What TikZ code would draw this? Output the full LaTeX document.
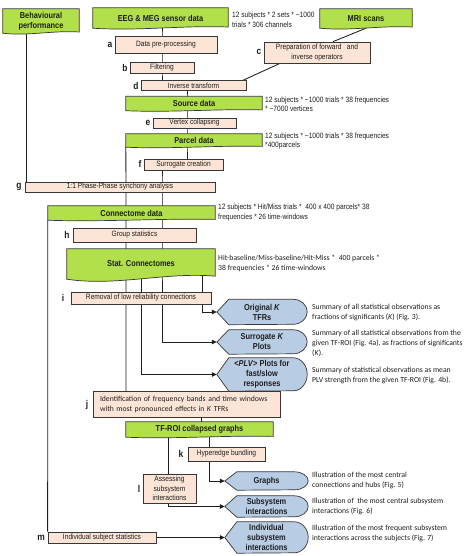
\documentclass[tikz,border=0pt]{standalone}
\usepackage{fontspec}
\setmainfont{Liberation Sans}
\newfontfamily\narrowfam[FakeStretch=0.86]{Liberation Sans}
\newfontfamily\carlfam{Carlito}
\usetikzlibrary{calc,arrows.meta}
\definecolor{greencol}{RGB}{178,224,74}
\definecolor{pinkcol}{RGB}{252,229,214}
\definecolor{bluecol}{RGB}{184,204,228}
\definecolor{edgecol}{RGB}{55,55,55}
\definecolor{linecol}{RGB}{30,30,30}
\definecolor{textcol}{RGB}{30,30,30}
\newcommand\boxfont{\narrowfam\fontsize{7.7}{9.5}\selectfont}
\newcommand\headfont{\narrowfam\bfseries\fontsize{8.6}{10}\selectfont}
\newcommand\labfont{\narrowfam\bfseries\fontsize{9.8}{10}\selectfont}
\newcommand\notefont{\carlfam\fontsize{7.7}{10}\selectfont}
\pgfdeclarelayer{lines}
\pgfdeclarelayer{shapes}
\pgfsetlayers{lines,shapes,main}
\newcommand\docshape[2]{%
  \path[greenshape] (#1.north west) -- (#1.north east) -- ($(#1.south east)+(0,-#2)$)
   .. controls ($(#1.south west)!0.67!(#1.south east)+(0,-2.5*#2)$) and ($(#1.south west)!0.33!(#1.south east)+(0,2.5*#2)$) .. (#1.south west) -- cycle;}
\newcommand\dispshape[2]{%
  \path[blueshape] (#1.west) -- ([xshift=12pt]#1.north west) -- ([xshift=-14pt]#1.north east)
   arc[start angle=90,end angle=-90,x radius=14pt,y radius=#2pt] -- ([xshift=12pt]#1.south west) -- cycle;}
\tikzset{
  sz/.style 2 args={minimum width=#1pt, minimum height=#2pt},
  pinkbox/.style={draw=edgecol, fill=pinkcol, line width=0.7pt, inner sep=0pt, font=\boxfont, align=center, text=textcol},
  greenbox/.style={inner sep=0pt, font=\headfont, align=center, text=textcol},
  greenshape/.style={draw=edgecol, fill=greencol, line width=0.7pt},
  bluebox/.style={inner sep=0pt, font=\headfont, align=center, text=textcol},
  blueshape/.style={draw=edgecol, fill=bluecol, line width=0.7pt},
  steplabel/.style={font=\labfont, inner sep=0pt, text=textcol},
  note/.style={font=\boxfont, align=left, anchor=west, inner sep=0pt, text=textcol},
  cnote/.style={font=\notefont, align=left, anchor=west, inner sep=0pt, text=textcol},
  conn/.style={draw=linecol, line width=0.85pt},
  arr/.style={conn, -{Triangle[length=5pt,width=4.5pt]}},
}
\begin{document}
\begin{tikzpicture}[x=1pt,y=-1pt]
\useasboundingbox (0,0) rectangle (474,556);
% green data boxes
\node[greenbox, sz={76}{24}] (beh) at (41,21) {Behavioural\\performance};
\node[greenbox, sz={135}{20}] (eeg) at (160.5,18) {EEG \& MEG sensor data};
\node[greenbox, sz={92}{19}] (mri) at (366,18.5) {MRI scans};
\node[greenbox, sz={136}{14}] (src) at (194,103.5) {Source data};
\node[greenbox, sz={136}{13}] (par) at (194,140.5) {Parcel data};
\node[greenbox, sz={167}{14}] (con) at (131.5,213) {Connectome data};
\node[greenbox, sz={148}{30}] (stat) at (141,264) {Stat. Connectomes};
\node[greenbox, sz={147}{15}] (tfroi) at (199.5,429.5) {TF-ROI collapsed graphs};
% pink process boxes
\node[pinkbox, sz={102}{17}] (pre) at (166,44.5) {Data pre-processing};
\node[pinkbox, sz={64}{11}] (filt) at (162,67.5) {Filtering};
\node[pinkbox, sz={105}{10}] (inv) at (193.5,85.5) {Inverse transform};
\node[pinkbox, sz={106}{21}] (prep) at (317,52.5) {Preparation of forward\ \ \ and\\inverse operators};
\node[pinkbox, sz={83}{10}] (vert) at (194.5,123) {Vertex collapsing};
\node[pinkbox, sz={79}{11}] (surr) at (183.5,164.5) {Surrogate creation};
\node[pinkbox, sz={190}{10}] (pps) at (120,187) {1:1 Phase-Phase synchony analysis};
\node[pinkbox, sz={123}{14}] (grp) at (134.5,235) {Group statistics};
\node[pinkbox, sz={140}{12}] (rem) at (141,298) {Removal of low reliability connections};
\node[pinkbox, font=\notefont, align=left, text width=173pt, inner xsep=7pt, minimum height=26pt] (ident) at (186.5,404) {Identification of frequency bands and time windows\\with most pronounced effects in \textit{K} TFRs};
\node[pinkbox, sz={77}{14}] (hyp) at (226.5,454) {Hyperedge bundling};
\node[pinkbox, sz={53}{29}] (assess) at (169.5,488.5) {Assessing\\subsystem\\interactions};
\node[pinkbox, sz={108}{11}] (indstat) at (102,537.5) {Individual subject statistics};
% blue output shapes
\node[bluebox, sz={90}{25}] (ok) at (262,312) {Original \textit{K}\\TFRs};
\node[bluebox, sz={90}{24}] (sk) at (262,342) {Surrogate \textit{K}\\Plots};
\node[bluebox, sz={90}{33}] (plv) at (262,374.5) {<\textit{PLV}> Plots for\\fast/slow\\responses};
\node[bluebox, sz={83}{18}] (gr) at (266.5,481) {Graphs};
\node[bluebox, sz={83}{21}] (ss) at (266.5,506.5) {Subsystem\\interactions};
\node[bluebox, sz={83}{31}] (is) at (266.5,537.5) {Individual\\subsystem\\interactions};
% step labels
\node[steplabel] (la) at (110,45) {a};
\node[steplabel] (lb) at (125,68) {b};
\node[steplabel] (lc) at (259,52) {c};
\node[steplabel] (ld) at (136,86) {d};
\node[steplabel] (le) at (148,123) {e};
\node[steplabel] (lf) at (140,164) {f};
\node[steplabel] (lg) at (19,187) {g};
\node[steplabel] (lh) at (67,235) {h};
\node[steplabel] (li) at (63,298) {i};
\node[steplabel] (lj) at (87,405) {j};
\node[steplabel] (lk) at (181,454) {k};
\node[steplabel] (ll) at (139,489) {l};
\node[steplabel] (lm) at (41,537.5) {m};
% annotations
\node[note] (n1) at (232,19.5) {12 subjects * 2 sets * \textasciitilde1000\\trials * 306 channels};
\node[note] (n2) at (265,104) {12 subjects * \textasciitilde1000 trials * 38 frequencies\\* \textasciitilde7000 vertices};
\node[note] (n3) at (265,141) {12 subjects * \textasciitilde1000 trials * 38 frequencies\\*400parcels};
\node[note] (n4) at (218,212.5) {12 subjects * Hit/Miss trials *\ \ 400 x 400 parcels* 38\\frequencies * 26 time-windows};
\node[cnote] (n5) at (218,263) {Hit-baseline/Miss-baseline/Hit-Miss *\ \ 400 parcels *\\38 frequencies * 26 time-windows};
\node[cnote] (n6) at (312,312) {Summary of all statistical observations as\\fractions of significants (\textit{K}) (Fig. 3).};
\node[cnote] (n7) at (312,343) {Summary of all statistical observations from the\\given TF-ROI (Fig. 4a), as fractions of significants\\(\textit{K}).};
\node[cnote] (n8) at (312,375.5) {Summary of statistical observations as mean\\PLV strength from the given TF-ROI (Fig. 4b).};
\node[cnote] (n9) at (312,480) {Illustration of the most central\\connections and hubs (Fig. 5)};
\node[cnote] (n10) at (312,506.5) {Illustration of\ \ the most central subsystem\\interactions (Fig. 6)};
\node[cnote] (n11) at (312,533.5) {Illustration of the most frequent subsystem\\interactions across the subjects (Fig. 7)};
% column coordinates
\coordinate (xA) at (187,0);
\coordinate (xB) at (162,0);
\coordinate (xC) at (126,0);
\coordinate (xD) at (26,0);
\coordinate (xE) at (202,0);
\coordinate (xF) at (141,0);
\coordinate (xG) at (209,0);
\coordinate (xH) at (168,0);
\coordinate (xJ) at (201,0);
\begin{pgfonlayer}{shapes}
\docshape{beh}{1.2}
\docshape{eeg}{1.2}
\docshape{mri}{1.2}
\docshape{src}{0.8}
\docshape{par}{0.8}
\docshape{con}{0.8}
\docshape{stat}{3}
\docshape{tfroi}{0.8}
\dispshape{ok}{12.5}
\dispshape{sk}{12}
\dispshape{plv}{16.5}
\dispshape{gr}{9}
\dispshape{ss}{10.5}
\dispshape{is}{15.5}
\end{pgfonlayer}
\begin{pgfonlayer}{lines}
\fill[white] (0,0) rectangle (474,556);
\draw[conn] (eeg.center -| xB) -- (pre.center -| xB) -- (filt.center) -- (inv.center -| xB);
\draw[conn] (inv.center -| xA) -- (src.center -| xA) -- (vert.center -| xA) -- (par.center -| xA) -- (surr.center -| xA);
\draw[conn] (mri.south) -- ([xshift=16pt]prep.north);
\draw[conn] ([xshift=-37pt]prep.south) -- ([xshift=-3pt]inv.north east);
\draw[conn] (beh.center -| xD) -- (pps.center -| xD);
\draw[conn] (surr.center -| xB) -- (pps.center -| xB) -- (con.center -| xB) -- (grp.center -| xB) -- (stat.center -| xB) -- (rem.center -| xB);
\draw[arr] (rem.center -| xB) |- (sk.west);
\draw[conn] (par.south west) -- (pps.center -| xC) -- (con.center -| xC) -- (grp.center -| xC) -- (stat.center -| xC) -- (rem.center -| xC) -- (ident.center -| xC);
\draw[conn] (stat.center -| xF) -- (rem.center -| xF);
\draw[arr] (rem.center -| xF) |- (plv.west);
\draw[conn] (stat.center -| xE) -- (rem.center -| xE);
\draw[arr] (rem.center -| xE) |- (ok.west);
\draw[conn] (con.south west) -- (indstat.north west);
\draw[conn] (ident.center -| xJ) -- (tfroi.center -| xJ);
\draw[conn] (tfroi.center -| xG) -- (hyp.center -| xG);
\draw[arr] (hyp.center -| xG) |- (gr.west);
\draw[conn] (tfroi.center -| xH) -- (assess.center -| xH);
\draw[arr] (assess.center -| xH) |- (ss.west);
\draw[arr] (indstat.east) -- (is.west);
\end{pgfonlayer}
\end{tikzpicture}
\end{document}
